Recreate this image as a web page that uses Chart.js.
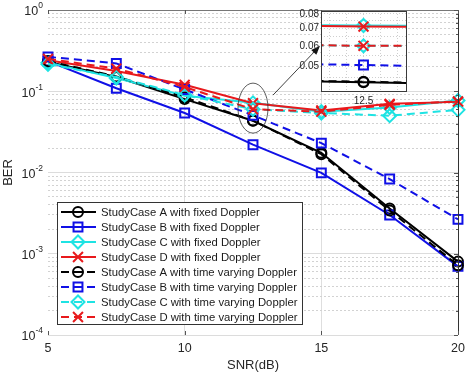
<!DOCTYPE html>
<html>
<head>
<meta charset="utf-8">
<script src="https://cdn.jsdelivr.net/npm/chart.js@4/dist/chart.umd.min.js"></script>
<style>
  html, body { margin: 0; padding: 0; background: #fff; }
  #wrap { position: relative; width: 474px; height: 377px; }
  #mainChart { position: absolute; left: 0; top: 0; }
  #insetChart { position: absolute; left: 280px; top: 0; }
</style>
</head>
<body>
<div id="wrap">
  <canvas id="mainChart" width="474" height="377"></canvas>
  <canvas id="insetChart" width="135" height="112"></canvas>
</div>
<script>
// SNR points (dB) and BER
const snrDb = [5, 7.5, 10, 12.5, 15, 17.5, 20];
const berAFixed   = [0.23, 0.15, 0.08, 0.0433, 0.0175, 0.0036, 0.0008];
const berBFixed   = [0.235, 0.109, 0.054, 0.022, 0.0099, 0.003, 0.0007];
const berCFixed   = [0.225, 0.145, 0.088, 0.072, 0.056, 0.063, 0.077];
const berDFixed   = [0.24, 0.178, 0.12, 0.0713, 0.058, 0.07, 0.074];
const berAVarying = [0.235, 0.152, 0.084, 0.0435, 0.0168, 0.0034, 0.00072];
const berBVarying = [0.265, 0.22, 0.105, 0.0505, 0.023, 0.0083, 0.00265];
const berCVarying = [0.215, 0.15, 0.09, 0.06, 0.054, 0.05, 0.059];
const berDVarying = [0.25, 0.19, 0.113, 0.06, 0.056, 0.068, 0.075];

const seriesLabels = [
    'StudyCase A with fixed Doppler',
    'StudyCase B with fixed Doppler',
    'StudyCase C with fixed Doppler',
    'StudyCase D with fixed Doppler',
    'StudyCase A with time varying Doppler',
    'StudyCase B with time varying Doppler',
    'StudyCase C with time varying Doppler',
    'StudyCase D with time varying Doppler'
];
const seriesValues = [berAFixed, berBFixed, berCFixed, berDFixed, berAVarying, berBVarying, berCVarying, berDVarying];

// axis ticks
const xTicks = [5, 10, 15, 20];
const yDecadeExponents = [0, -1, -2, -3, -4];
const insetYLabels = [0.05, 0.06, 0.07, 0.08];
const insetXLabel = 12.5;

const FONT = '"Liberation Sans", Arial, Helvetica, sans-serif';
const colors = ['#000000', '#1010e6', '#1ee3e3', '#e8191c'];
const markers = [
    { style: 'circle', radius: 5 },
    { style: 'rect', radius: 6.3 },
    { style: 'rectRot', radius: 6.5 },
    { style: 'crossRot', radius: 7 }
];

function buildDatasets(clip) {
    return seriesValues.map((vals, i) => {
        const k = i % 4;
        const dashed = i >= 4;
        return {
            label: seriesLabels[i],
            data: snrDb.map((x, j) => ({ x: x, y: vals[j] })),
            borderColor: colors[k],
            borderWidth: 2,
            borderDash: dashed ? [8, 5] : [],
            pointStyle: markers[k].style,
            pointRadius: markers[k].radius,
            pointBorderWidth: 2,
            pointBorderColor: colors[k],
            pointBackgroundColor: 'rgba(0,0,0,0)',
            tension: 0,
            fill: false,
            clip: clip,
            order: 8 - i
        };
    });
}

function logTicks(exps) {
    const ticks = [];
    const lo = Math.min(...exps), hi = Math.max(...exps);
    for (let e = lo; e <= hi; e++) {
        ticks.push({ value: Math.pow(10, e), major: true });
        if (e < hi) {
            for (let m = 2; m <= 9; m++) ticks.push({ value: m * Math.pow(10, e), major: false });
        }
    }
    return ticks;
}

// ---------- inset ----------
const insetFrame = {
    id: 'insetFrame',
    beforeDraw(chart) {
        const a = chart.chartArea;
        chart.ctx.save();
        chart.ctx.fillStyle = '#fff';
        chart.ctx.fillRect(a.left, a.top, a.right - a.left, a.bottom - a.top);
        chart.ctx.restore();
    },
    afterDraw(chart) {
        const a = chart.chartArea;
        const ctx = chart.ctx;
        ctx.save();
        ctx.strokeStyle = '#3a3a3a';
        ctx.lineWidth = 1;
        ctx.strokeRect(Math.round(a.left) + 0.5, Math.round(a.top) + 0.5,
            Math.round(a.right - a.left), Math.round(a.bottom - a.top));
        ctx.restore();
    }
};

const insetChart = new Chart(document.getElementById('insetChart'), {
    type: 'line',
    data: { datasets: buildDatasets(true) },
    plugins: [insetFrame],
    options: {
        responsive: false,
        animation: false,
        layout: { padding: { left: 0, right: 8, top: 11, bottom: 0 } },
        plugins: { legend: { display: false }, tooltip: { enabled: false } },
        scales: {
            x: {
                type: 'linear', min: 12.48, max: 12.52,
                afterBuildTicks: s => { s.ticks = [12.484, 12.492, 12.5, 12.508, 12.516].map(v => ({ value: v })); },
                afterFit: s => { s.height = 21; },
                border: { display: false, dash: [1, 2] },
                grid: { color: '#cfcfcf', drawTicks: false },
                ticks: {
                    padding: 4, color: '#262626', font: { family: FONT, size: 10 },
                    autoSkip: false, maxRotation: 0,
                    callback: v => (Math.abs(v - insetXLabel) < 1e-6 ? String(insetXLabel) : '')
                }
            },
            y: {
                type: 'logarithmic', min: 0.040, max: 0.082,
                afterBuildTicks: s => {
                    const t = [];
                    for (let v = 40; v <= 80; v += 5) t.push({ value: v / 1000 });
                    s.ticks = t;
                },
                afterFit: s => { s.width = 41; },
                border: { display: false, dash: [1, 2] },
                grid: { color: '#cfcfcf', drawTicks: false },
                ticks: {
                    padding: 2, color: '#262626', font: { family: FONT, size: 10 },
                    autoSkip: false,
                    callback: v => (insetYLabels.some(l => Math.abs(l - v) < 1e-6) ? v.toFixed(2) : '')
                }
            }
        }
    }
});

// ---------- main chart decorations ----------
const frameAndLabels = {
    id: 'frameAndLabels',
    afterDraw(chart) {
        const ctx = chart.ctx;
        const a = chart.chartArea;
        const xs = chart.scales.x, ys = chart.scales.y;
        ctx.save();
        // top and right edges of the axes box
        ctx.lineWidth = 1;
        ctx.strokeStyle = '#777';
        ctx.beginPath();
        ctx.moveTo(a.left, Math.round(a.top) + 0.5);
        ctx.lineTo(a.right, Math.round(a.top) + 0.5);
        ctx.stroke();
        ctx.strokeStyle = '#333';
        ctx.beginPath();
        ctx.moveTo(Math.round(a.right) + 0.5, a.top);
        ctx.lineTo(Math.round(a.right) + 0.5, a.bottom);
        ctx.stroke();

        // inward tick marks
        ctx.strokeStyle = '#555';
        xTicks.forEach(v => {
            const px = Math.round(xs.getPixelForValue(v)) + 0.5;
            ctx.beginPath();
            ctx.moveTo(px, a.bottom); ctx.lineTo(px, a.bottom - 4);
            ctx.moveTo(px, a.top); ctx.lineTo(px, a.top + 4);
            ctx.stroke();
        });
        logTicks(yDecadeExponents).forEach(t => {
            const py = Math.round(ys.getPixelForValue(t.value)) + 0.5;
            const len = t.major ? 4 : 2;
            ctx.beginPath();
            ctx.moveTo(a.right, py); ctx.lineTo(a.right - len, py);
            ctx.stroke();
        });

        // y tick labels 10^n
        ctx.fillStyle = '#262626';
        ctx.textBaseline = 'middle';
        const right = a.left - 5;
        yDecadeExponents.forEach(e => {
            const py = ys.getPixelForValue(Math.pow(10, e));
            const exp = String(e);
            ctx.font = `8.5px ${FONT}`;
            const ew = ctx.measureText(exp).width;
            ctx.textAlign = 'left';
            ctx.fillText(exp, right - ew, py - 4);
            ctx.font = `12.5px ${FONT}`;
            ctx.textAlign = 'right';
            ctx.fillText('10', right - ew, py + 2);
        });
        ctx.restore();
    }
};

const zoomMarks = {
    id: 'zoomMarks',
    afterDatasetsDraw(chart) {
        const ctx = chart.ctx;
        const cx = chart.scales.x.getPixelForValue(12.5);
        const cy = chart.scales.y.getPixelForValue(0.062);
        ctx.save();
        ctx.strokeStyle = '#333';
        ctx.lineWidth = 0.8;
        ctx.beginPath();
        ctx.ellipse(cx, cy, 15, 25, 0, 0, Math.PI * 2);
        ctx.stroke();

        // arrow towards the inset
        const ia = insetChart.chartArea;
        const x0 = cx + 20, y0 = cy - 13;
        const x1 = 280 + ia.left - 1;
        const y1 = insetChart.scales.y.getPixelForValue(0.06);
        const ang = Math.atan2(y1 - y0, x1 - x0);
        ctx.strokeStyle = '#111';
        ctx.beginPath();
        ctx.moveTo(x0, y0);
        ctx.lineTo(x1 - 6 * Math.cos(ang), y1 - 6 * Math.sin(ang));
        ctx.stroke();
        ctx.fillStyle = '#111';
        ctx.beginPath();
        ctx.moveTo(x1, y1);
        ctx.lineTo(x1 - 9 * Math.cos(ang) + 3.5 * Math.sin(ang), y1 - 9 * Math.sin(ang) - 3.5 * Math.cos(ang));
        ctx.lineTo(x1 - 9 * Math.cos(ang) - 3.5 * Math.sin(ang), y1 - 9 * Math.sin(ang) + 3.5 * Math.cos(ang));
        ctx.closePath();
        ctx.fill();
        ctx.restore();
    }
};

const boxLegend = {
    id: 'boxLegend',
    afterDraw(chart) {
        const ctx = chart.ctx;
        const box = { x: 57, y: 202, w: 245, h: 122 };
        ctx.save();
        ctx.fillStyle = '#fff';
        ctx.fillRect(box.x, box.y, box.w, box.h);
        ctx.strokeStyle = '#333';
        ctx.lineWidth = 1;
        ctx.strokeRect(box.x + 0.5, box.y + 0.5, box.w, box.h);
        ctx.font = `11.3px ${FONT}`;
        ctx.textBaseline = 'middle';
        ctx.textAlign = 'left';
        chart.data.datasets.forEach((ds, i) => {
            const y = box.y + 10 + i * 15;
            ctx.strokeStyle = ds.borderColor;
            ctx.lineWidth = ds.borderWidth;
            ctx.setLineDash(ds.borderDash);
            ctx.beginPath();
            ctx.moveTo(box.x + 4, y);
            ctx.lineTo(box.x + 39, y);
            ctx.stroke();
            ctx.setLineDash([]);
            ctx.lineWidth = ds.pointBorderWidth;
            ctx.strokeStyle = ds.pointBorderColor;
            ctx.fillStyle = 'rgba(0,0,0,0)';
            Chart.helpers.drawPoint(ctx, {
                pointStyle: ds.pointStyle, radius: ds.pointRadius, rotation: 0, borderWidth: ds.pointBorderWidth
            }, box.x + 21, y);
            ctx.fillStyle = '#1a1a1a';
            ctx.fillText(ds.label, box.x + 44, y + 0.5);
        });
        ctx.restore();
    }
};

new Chart(document.getElementById('mainChart'), {
    type: 'line',
    data: { datasets: buildDatasets(false) },
    plugins: [frameAndLabels, zoomMarks, boxLegend],
    options: {
        responsive: false,
        animation: false,
        layout: { padding: { left: 0, right: 16, top: 10, bottom: 0 } },
        plugins: { legend: { display: false }, tooltip: { enabled: false } },
        scales: {
            x: {
                type: 'linear', min: 5, max: 20,
                afterBuildTicks: s => { s.ticks = xTicks.map(v => ({ value: v })); },
                afterFit: s => { s.height = 42; },
                border: { display: false },
                grid: {
                    drawTicks: false,
                    color: c => (c.tick && (c.tick.value === 10 || c.tick.value === 15) ? '#dedede' : 'rgba(0,0,0,0)')
                },
                ticks: { padding: 6, color: '#262626', font: { family: FONT, size: 12.5 }, maxRotation: 0 },
                title: {
                    display: true, text: 'SNR(dB)', color: '#262626',
                    font: { family: FONT, size: 13 }, padding: { top: 0, bottom: 4 }
                }
            },
            y: {
                type: 'logarithmic', min: 1e-4, max: 1,
                afterBuildTicks: s => { s.ticks = logTicks(yDecadeExponents); },
                afterFit: s => { s.width = 48; },
                border: { display: false, dash: c => (c.tick && !c.tick.major ? [2, 2] : []) },
                grid: {
                    drawTicks: false,
                    color: c => (c.tick && c.tick.major ? '#dcdcdc' : '#d2d2d2')
                },
                ticks: { display: false },
                title: {
                    display: true, text: 'BER', color: '#262626',
                    font: { family: FONT, size: 13 }, padding: { top: 1, bottom: 0 }
                }
            }
        }
    }
});
</script>
</body>
</html>
